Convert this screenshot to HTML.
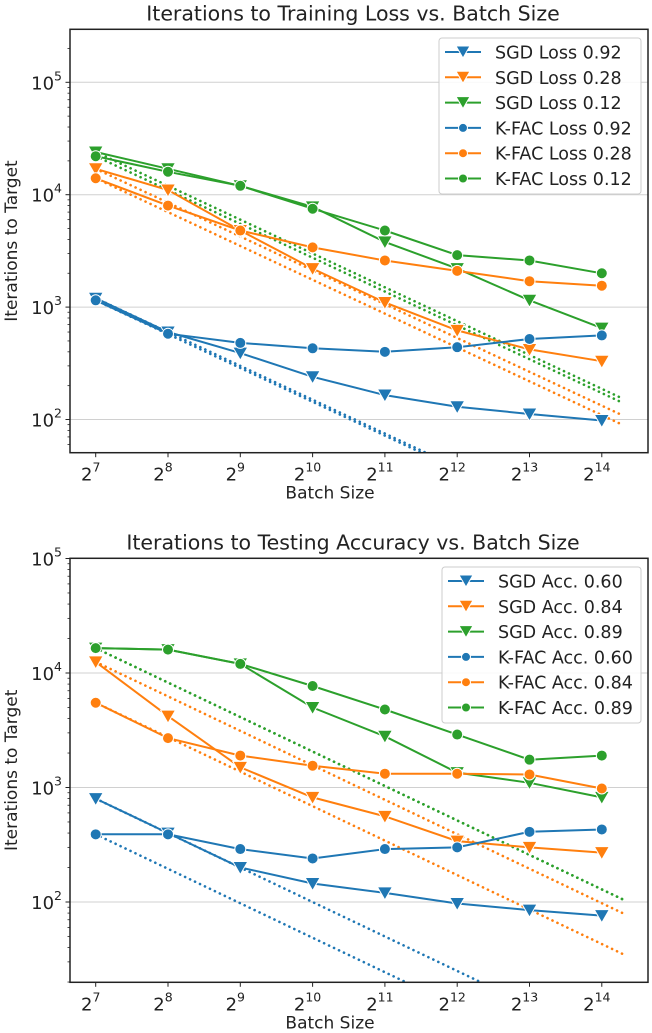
<!DOCTYPE html>
<html><head><meta charset="utf-8"><style>
html,body{margin:0;background:#fff;overflow:hidden;width:652px;height:1033px;}
svg{display:block;font-family:"DejaVu Sans","Liberation Sans",sans-serif;}
</style></head><body>
<svg id="fig" width="652" height="1033" viewBox="0 0 652 1033"></svg>
<script>
const batchExponents = [7,8,9,10,11,12,13,14];
const colors = ['#1f77b4','#ff7f0e','#2ca02c'];
// Top chart
const topTitle = 'Iterations to Training Loss vs. Batch Size';
const topLabels = ['SGD Loss 0.92','SGD Loss 0.28','SGD Loss 0.12','K-FAC Loss 0.92','K-FAC Loss 0.28','K-FAC Loss 0.12'];
const topSgd092 = [1200,600,390,240,165,130,112,98];
const topSgd028 = [17000,11000,4800,2200,1100,620,420,330];
const topSgd012 = [24000,17000,12000,7800,3800,2200,1150,650];
const topKfac092 = [1150,580,480,430,400,440,520,560];
const topKfac028 = [14000,8000,4800,3400,2600,2100,1700,1550];
const topKfac012 = [22000,16000,12000,7500,4800,2900,2600,2000];
// Bottom chart
const botTitle = 'Iterations to Testing Accuracy vs. Batch Size';
const botLabels = ['SGD Acc. 0.60','SGD Acc. 0.84','SGD Acc. 0.89','K-FAC Acc. 0.60','K-FAC Acc. 0.84','K-FAC Acc. 0.89'];
const botSgd060 = [800,400,200,145,120,97,85,76];
const botSgd084 = [12500,4200,1500,820,560,340,300,270];
const botSgd089 = [16500,16000,12000,5000,2800,1350,1100,820];
const botKfac060 = [390,390,290,240,290,300,410,430];
const botKfac084 = [5500,2700,1900,1550,1320,1320,1300,980];
const botKfac089 = [16500,16000,12000,7700,4800,2900,1750,1900];
const yTickExps = [2,3,4,5];
const idealEndExp = 14.28;

const NS='http://www.w3.org/2000/svg';
const svg=document.getElementById('fig');
function mk(tag,attrs,parent){const e=document.createElementNS(NS,tag);for(const k in attrs)e.setAttribute(k,attrs[k]);(parent||svg).appendChild(e);return e;}

function chart(cfg){
  const g=mk('g',{});
  
  
  const L=70,R=648,T=cfg.top,B=cfg.bottom;
  const xs=e=>95.7+(e-7)*72.3;
  const ys=v=>cfg.y10k+(4-Math.log10(v))*cfg.dec;
  const clipId='clip'+cfg.name;
  const cp=mk('clipPath',{id:clipId},g);mk('rect',{x:L,y:T,width:R-L,height:B-T},cp);
  yTickExps.forEach(e=>{const y=ys(Math.pow(10,e));if(y>=T-0.5&&y<=B){
    const gl=mk('line',{x1:L,x2:R,y1:y,y2:y,stroke:'#d0d0d0','stroke-width':1},g);
    }});
  for(let e=1;e<=5;e++)for(let m=2;m<=9;m++){const y=ys(m*Math.pow(10,e));if(y>=T&&y<=B)mk('line',{x1:L-2.5,x2:L,y1:y,y2:y,stroke:'#222','stroke-width':0.8},g);}
  yTickExps.forEach(e=>{const y=ys(Math.pow(10,e));if(y>=T-0.5&&y<=B){
    mk('line',{x1:L-4.5,x2:L,y1:y,y2:y,stroke:'#222','stroke-width':1},g);
    const t=mk('text',{x:L-8,y:y+7,'text-anchor':'end','font-size':18,fill:'#222'},g);
    
    t.textContent='10';const s=mk('tspan',{dy:-9,'font-size':12.5},t);s.textContent=e;}});
  batchExponents.forEach(e=>{const x=xs(e);
    mk('line',{x1:x,x2:x,y1:B,y2:B+4.5,stroke:'#222','stroke-width':1},g);
    const t=mk('text',{x:x-5,y:B+28,'text-anchor':'middle','font-size':18,fill:'#222'},g);
    
    t.textContent='2';const s=mk('tspan',{dy:-9,'font-size':12.5},t);s.textContent=e;});
  const series=[cfg.s0,cfg.s1,cfg.s2,cfg.k0,cfg.k1,cfg.k2];
  const pg=mk('g',{'clip-path':`url(#${clipId})`},g);
  series.forEach((d,i)=>{const c=colors[i%3];
    const l=mk('line',{x1:xs(7),y1:ys(d[0]),x2:xs(idealEndExp),y2:ys(d[0]/Math.pow(2,idealEndExp-7)),stroke:c,'stroke-width':2.6,'stroke-dasharray':'0.1,5.4','stroke-linecap':'round'},pg);
    });
  series.forEach((d,i)=>{const c=colors[i%3];const tri=i<3;
    const pts=d.map((v,j)=>xs(batchExponents[j]).toFixed(1)+','+ys(v).toFixed(1)).join(' ');
    const pl=mk('polyline',{points:pts,fill:'none',stroke:c,'stroke-width':2},pg);
    
    d.forEach((v,j)=>{const x=xs(batchExponents[j]),y=ys(v);let m;
      if(tri)m=mk('path',{d:`M${x-7.5},${y-6} L${x+7.5},${y-6} L${x},${y+7} Z`,fill:c,stroke:'#fff','stroke-width':1},pg);
      else m=mk('circle',{cx:x,cy:y,r:5.5,fill:c,stroke:'#fff','stroke-width':1},pg);
      });
  });
  const fr=mk('rect',{x:L,y:T,width:R-L,height:B-T,fill:'none',stroke:'#222','stroke-width':1.5},g);
  
  const tt=mk('text',{x:(L+R)/2-6,y:T-9,'text-anchor':'middle','font-size':20.5,fill:'#222'},g);
  tt.textContent=cfg.title;
  const xl=mk('text',{x:(L+R)/2-29,y:B+46,'text-anchor':'middle','font-size':17,fill:'#222'},g);
  xl.textContent='Batch Size';
  const yl=mk('text',{x:0,y:0,'text-anchor':'middle','font-size':17,fill:'#222',transform:`translate(17,${(T+B)/2}) rotate(-90)`},g);
  yl.textContent='Iterations to Target';
  const lg=mk('g',{},g);
  mk('rect',{x:cfg.lx,y:cfg.ly,width:641-cfg.lx,height:156,rx:3,fill:'#fff','fill-opacity':0.85,stroke:'#ccc','stroke-width':1},lg);
  cfg.labels.forEach((lab,i)=>{const y=cfg.ly+14+i*25.3;const c=colors[i%3];const x0=cfg.lx+6;
    const e=mk('g',{},lg);
    mk('line',{x1:x0,x2:x0+36,y1:y,y2:y,stroke:c,'stroke-width':2},e);
    const cx=x0+18;
    if(i<3)mk('path',{d:`M${cx-7},${y-6} L${cx+7},${y-6} L${cx},${y+6} Z`,fill:c,stroke:'#fff','stroke-width':1},e);
    else mk('circle',{cx:cx,cy:y,r:4.5,fill:c,stroke:'#fff','stroke-width':1},e);
    const t=mk('text',{x:x0+50,y:y+6.5,'font-size':17.5,fill:'#222'},e);t.textContent=lab;});
}
chart({name:'training-loss-chart',title:topTitle,labels:topLabels,top:29.3,bottom:452.7,y10k:194.7,dec:112.4,
  s0:topSgd092,s1:topSgd028,s2:topSgd012,k0:topKfac092,k1:topKfac028,k2:topKfac012,lx:439,ly:38});
chart({name:'testing-accuracy-chart',title:botTitle,labels:botLabels,top:558.3,bottom:982.3,y10k:673,dec:114.5,
  s0:botSgd060,s1:botSgd084,s2:botSgd089,k0:botKfac060,k1:botKfac084,k2:botKfac089,lx:442,ly:567});
</script>
</body></html>
